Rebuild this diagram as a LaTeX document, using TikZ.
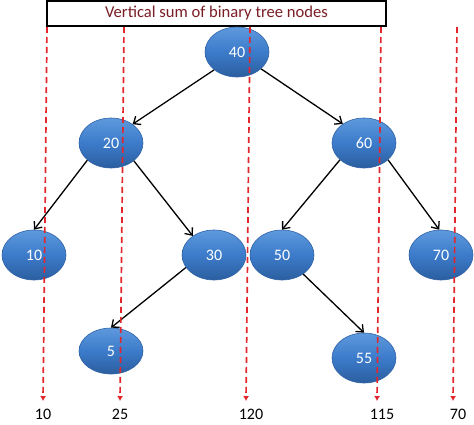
\documentclass[tikz,border=0pt]{standalone}
\usepackage{fontspec}
\setmainfont{Carlito}
\usetikzlibrary{shapes.geometric,arrows.meta}
\definecolor{nodetop}{HTML}{5E99DD}
\definecolor{nodemid}{HTML}{3C7BCA}
\definecolor{nodebot}{HTML}{2B5E9F}
\definecolor{nodeedge}{HTML}{2F63A6}
\definecolor{titlered}{HTML}{7A1E26}
\definecolor{lineRed}{HTML}{E3262B}
\tikzset{
  treenode/.style={ellipse, minimum width=64pt, minimum height=50pt, inner sep=0pt,
    top color=nodetop, bottom color=nodebot, middle color=nodemid,
    draw=nodeedge, line width=0.6pt, text=white, font=\fontsize{16}{16}\selectfont},
  treeedge/.style={-{Straight Barb[length=6pt,width=10pt]}, line width=1.3pt, black},
  sumline/.style={lineRed, line width=1.7pt, dash pattern=on 6pt off 4pt,
    -{Latex[length=5pt,width=6pt]}},
  sumlabel/.style={anchor=base, font=\fontsize{16}{16}\selectfont, text=black, inner sep=0pt},
  titlebox/.style={draw=black, line width=1.6pt, fill=white, minimum width=339pt,
    minimum height=25pt, inner sep=0pt, text=titlered, font=\fontsize{16.6}{16.6}\selectfont}
}
\begin{document}
\begin{tikzpicture}[x=1pt,y=-1pt]
\useasboundingbox (0,0) rectangle (474,424);
% title
\node[titlebox] (title) at (216.5,13.5) {Vertical sum of binary tree nodes};
% tree nodes
\node[treenode] (n40) at (237,52) {40};
\node[treenode] (n20) at (111,143) {20};
\node[treenode] (n60) at (364,143) {60};
\node[treenode] (n10) at (34,255) {10};
\node[treenode] (n30) at (214,255) {30};
\node[treenode] (n50) at (282,255) {50};
\node[treenode] (n70) at (441,255) {70};
\node[treenode, minimum height=46pt] (n5) at (111,351) {5};
\node[treenode] (n55) at (364,358) {55};
% edges
\draw[treeedge] (n40.218) -- (n20.41);
\draw[treeedge] (n40.325) -- (n60.138);
\draw[treeedge] (n20.216) -- (n10.90);
\draw[treeedge] (n20.322) -- (n30.138);
\draw[treeedge] (n60.215) -- (n50.90);
\draw[treeedge] (n60.325) -- (n70.94);
\draw[treeedge] (n30.204) -- (n5.90);
\draw[treeedge] (n50.318) -- (n55.90);
% vertical sum lines
\coordinate (t1) at (47,27);  \coordinate (b1) at (43,401);
\coordinate (t2) at (124,27); \coordinate (b2) at (120,401);
\coordinate (t3) at (250,27); \coordinate (b3) at (246,401);
\coordinate (t4) at (381,27); \coordinate (b4) at (377,401);
\coordinate (t5) at (457,27); \coordinate (b5) at (453,401);
\foreach \i in {1,...,5} \draw[sumline] (t\i) -- (b\i);
% labels
\node[sumlabel] (s1) at (43,419.5) {10};
\node[sumlabel] (s2) at (120,419.5) {25};
\node[sumlabel] (s3) at (251,419.5) {120};
\node[sumlabel] (s4) at (382,419.5) {115};
\node[sumlabel] (s5) at (458,419.5) {70};
\end{tikzpicture}
\end{document}
